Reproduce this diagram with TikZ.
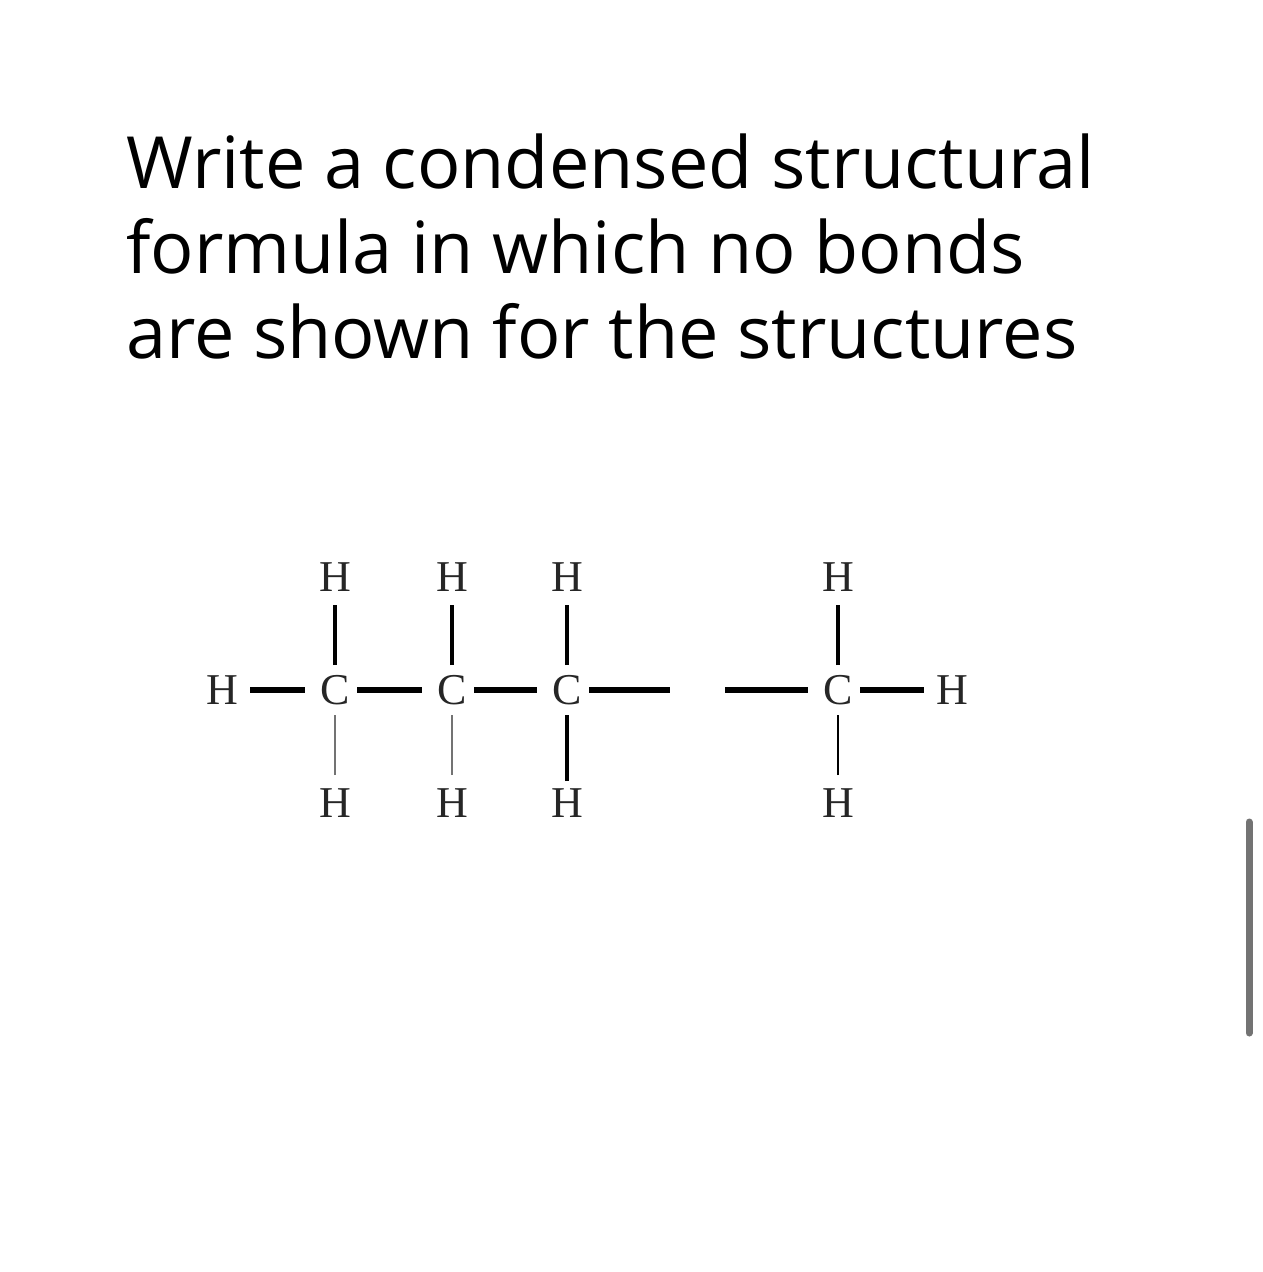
\documentclass[tikz,border=0pt]{standalone}
\usepackage{fontspec}
\setmainfont{Liberation Serif}
\newfontfamily\titlefont{Open Sans}
\begin{document}
\begin{tikzpicture}[x=1pt,y=-1pt,
  atom/.style={font=\fontsize{44}{44}\selectfont, text=black!85, inner sep=0pt, anchor=center},
  hb/.style={line width=5.5pt, black},
  vb/.style={line width=4pt, black},
  vbl/.style={line width=2pt, black!55},
  ttl/.style={font=\titlefont\fontsize{72}{85}\selectfont, anchor=base west, inner sep=0pt}]
\useasboundingbox (0,0) rectangle (1262,1272);
\node[ttl] (t1) at (126,188) {Write a condensed structural};
\node[ttl] (t2) at (126,273) {formula in which no bonds};
\node[ttl] (t3) at (126,358) {are shown for the structures};
\foreach \n/\x in {H0/222,C1/335,C2/452,C3/567,O/700,C4/838,H9/952}{
  \node[atom] (\n) at (\x,690) {\ifx O\n O\else\fi};}
\node[atom] at (H0) {H};\node[atom] at (C1) {C};\node[atom] at (C2) {C};
\node[atom] at (C3) {C};\node[atom] at (C4) {C};\node[atom] at (H9) {H};
\foreach \c in {C1,C2,C3,C4}{
  \node[atom] (\c t) at ([yshift=-113pt]\c) {H};
  \node[atom] (\c b) at ([yshift=113pt]\c) {H};}
\draw[hb] ([xshift=28]H0.center) -- ([xshift=-30]C1.center);
\draw[hb] ([xshift=22]C1.center) -- ([xshift=-30]C2.center);
\draw[hb] ([xshift=22]C2.center) -- ([xshift=-30]C3.center);
\draw[hb] ([xshift=22]C3.center) -- ([xshift=-30]O.center);
\draw[hb] ([xshift=25]O.center) -- ([xshift=-30]C4.center);
\draw[hb] ([xshift=22]C4.center) -- ([xshift=-28]H9.center);
\draw[vbl] ([yshift=28]C1t.center) -- ([yshift=-25]C1.center);
\draw[vbl] ([yshift=28]C2t.center) -- ([yshift=-25]C2.center);
\draw[vb] ([yshift=22]C3t.center) -- ([yshift=-25]C3.center);
\draw[line width=2.5pt] ([yshift=28]C4t.center) -- ([yshift=-25]C4.center);
\foreach \c in {C1,C2,C3,C4}{
  \draw[vb] ([yshift=25]\c.center) -- ([yshift=-28]\c b.center);}
\draw[line width=7pt, line cap=round, black!55] (1249,822) coordinate (s1) -- (1249,1033) coordinate (s2);
\end{tikzpicture}
\end{document}
